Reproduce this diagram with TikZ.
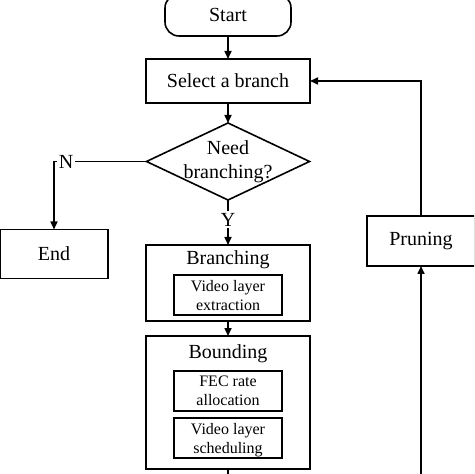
\documentclass[tikz,border=0pt]{standalone}
\usepackage{fontspec}
\setmainfont{Liberation Serif}
\usetikzlibrary{positioning,arrows.meta,shapes.geometric,calc}

\begin{document}
\begin{tikzpicture}[
    x=0.5pt, y=-0.5pt,
    line width=0.8pt,
    every node/.style={outer sep=0pt},
    box/.style={rectangle, draw=black, minimum width=82pt, minimum height=22pt, font=\normalsize},
    startbox/.style={rectangle, rounded corners=7pt, draw=black, minimum width=63pt, minimum height=21pt, font=\normalsize},
    decide/.style={diamond, draw=black, inner sep=0pt, minimum width=81.5pt, minimum height=38.5pt},
    sidebox/.style={rectangle, draw=black, minimum width=54pt, minimum height=24.5pt, font=\normalsize},
    inbox/.style={rectangle, draw=black, minimum width=54pt, minimum height=20pt, inner sep=1pt,
        align=center, font=\footnotesize, text depth=0pt},
    title/.style={inner sep=1pt, font=\normalsize},
    yn/.style={fill=white, inner sep=1pt, font=\normalsize},
    arr/.style={-{Triangle[length=4pt,width=3.5pt]}},
]
\path[use as bounding box, clip] (0,0) rectangle (474,474);

% main column
\node[startbox] at (228,15) (start) {Start};
\node[box, below=11.5pt of start] (select) {Select a branch};
\node[decide, below=10pt of select,
    label={[align=center, font=\normalsize, inner sep=0pt]center:Need\\branching?}] (need) {};
\node[box, minimum height=38pt, below=22.5pt of need] (brbox) {};
\node[box, minimum height=66.5pt, below=7.5pt of brbox] (bdbox) {};

% inner steps
\node[inbox, above=3pt of brbox.south] (extract) {Video layer\\extraction};
\node[title] at ($(brbox.north)!0.5!(extract.north)$) (brtitle) {Branching};
\node[inbox, above=5.5pt of bdbox.south] (sched) {Video layer\\scheduling};
\node[inbox, above=3.5pt of sched] (fec) {FEC rate\\allocation};
\node[title] at ($(bdbox.north)!0.5!(fec.north)$) (bdtitle) {Bounding};

% side boxes
\node[sidebox] at (54,254) (finish) {End};
\node[sidebox, minimum height=25pt] at (421,241) (prune) {Pruning};

\draw[arr] (start.south) -- (select.north);
\draw[arr] (select.south) -- (need.north);
\draw[arr] (need.west) -| node[yn, pos=0.435] (nlab) {N} (finish.north);
\draw[arr] (need.south) -- node[yn, pos=0.44] (ylab) {Y} (brbox.north);
\draw[arr] (brbox.south) -- (bdbox.north);
\draw[arr] (bdbox.south) -- ++(0,30) -| (prune.south);
\draw[arr] (prune.north) |- (select.east);
\end{tikzpicture}
\end{document}
